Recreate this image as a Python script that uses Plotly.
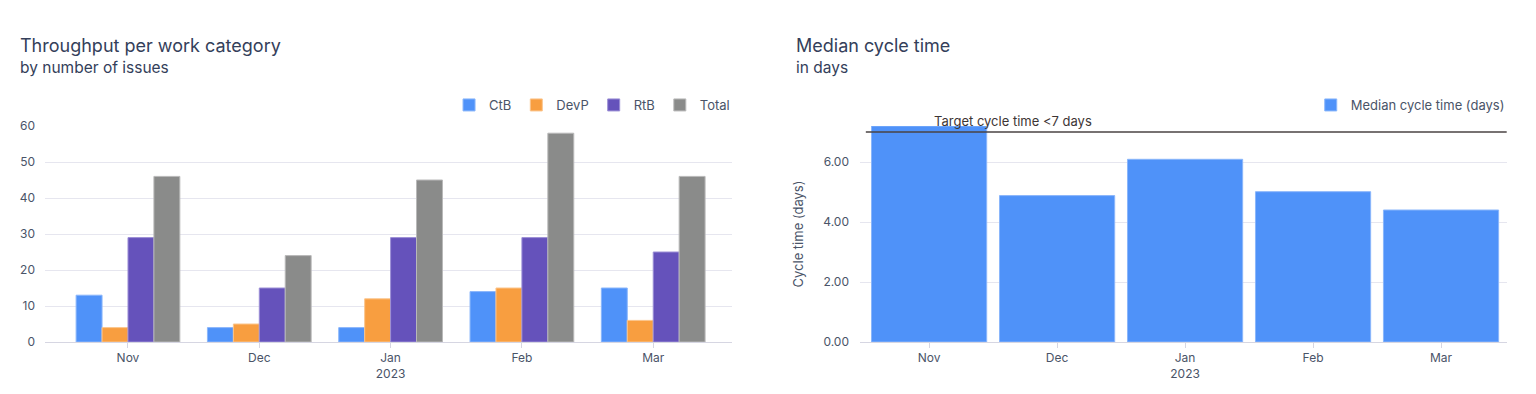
import plotly.graph_objects as go
from plotly.subplots import make_subplots

months = ["Nov", "Dec", "Jan", "Feb", "Mar"]
month_labels = ["Nov", "Dec", "Jan<br>2023", "Feb", "Mar"]

ctb = [13, 4, 4, 14, 15]
devp = [4, 5, 12, 15, 6]
rtb = [29, 15, 29, 29, 25]
total = [46, 24, 45, 58, 46]

cycle_time = [7.2, 4.88, 6.09, 5.01, 4.40]
target_days = 7

series = [
    ("CtB", ctb, "#4f92f9", "#8ab6fb"),
    ("DevP", devp, "#f89e40", "#fbc58c"),
    ("RtB", rtb, "#6552bb", "#9c8fd6"),
    ("Total", total, "#8a8b8a", "#b9b9b9"),
]

FONT = "Inter, Noto Sans, sans-serif"
TEXT = "#34405a"
TICK = "#4a5468"
GRID = "#e6e6ef"
AXIS = "#d6d6e2"

# page body has an 8px margin: work in reference pixels, shift by OFF
OFF = 8
W, H = 1536 - 2 * OFF, 394 - 2 * OFF
TOP, BOT = 126 - OFF, 342 - OFF
L1, R1 = 45 - OFF, 732 - OFF
L2, R2 = 860 - OFF, 1506.7 - OFF


def px(xref):
    return (xref - OFF) / W


def py(yref):
    return (BOT - (yref - OFF)) / (BOT - TOP)


fig = make_subplots(rows=1, cols=2)

for name, vals, col, lcol in series:
    fig.add_trace(go.Bar(x=months, y=vals, name=name,
                         marker=dict(color=col, line=dict(color=lcol, width=1)),
                         legend="legend"), row=1, col=1)

fig.add_trace(go.Bar(x=months, y=cycle_time, name="Median cycle time (days)", width=0.9,
                     marker=dict(color="#4f92f9", line=dict(color="#8ab6fb", width=1)),
                     legend="legend2"), row=1, col=2)

fig.update_layout(
    width=W, height=H, autosize=False,
    margin=dict(l=0, r=0, t=TOP, b=H - BOT),
    plot_bgcolor="white", paper_bgcolor="white",
    font=dict(family=FONT, color=TICK, size=12),
    barmode="group", bargap=0.21, bargroupgap=0,
    showlegend=True,
    legend=dict(orientation="h", x=R1 / W + 0.002, xanchor="right", y=py(105), yanchor="middle",
                font=dict(size=13, color=TICK), bgcolor="rgba(0,0,0,0)",
                traceorder="normal", itemwidth=30),
    legend2=dict(orientation="h", x=R2 / W + 0.002, xanchor="right", y=py(105), yanchor="middle",
                 font=dict(size=13, color=TICK), bgcolor="rgba(0,0,0,0)"),
)

xcommon = dict(type="category", tickmode="array", tickvals=months, ticktext=month_labels,
               ticks="outside", ticklen=5, tickcolor=AXIS, showline=True, linecolor=AXIS,
               linewidth=1, showgrid=False, tickfont=dict(size=12, color=TICK),
               ticklabelstandoff=0)
fig.update_xaxes(xcommon, row=1, col=1, domain=[L1 / W, R1 / W], range=[-0.632, 4.60])
fig.update_xaxes(xcommon, row=1, col=2, domain=[L2 / W, R2 / W], range=[-0.54, 4.513])

fig.update_yaxes(row=1, col=1, range=[0, 60], dtick=10, showgrid=True, gridcolor=GRID,
                 gridwidth=1, zeroline=False, showline=False, ticks="",
                 tickfont=dict(size=12, color=TICK), ticklabelstandoff=9)
fig.update_yaxes(row=1, col=2, range=[0, 7.2], tickvals=[0, 2, 4, 6], tickformat=".2f",
                 showgrid=True, gridcolor=GRID, gridwidth=1, zeroline=False, showline=False,
                 ticks="", tickfont=dict(size=12, color=TICK), ticklabelstandoff=10,
                 title=dict(text="Cycle time (days)", font=dict(size=13, color=TICK), standoff=16))

# target line
fig.add_shape(type="line", xref="x2 domain", yref="y2", x0=0.009, x1=1.0,
              y0=target_days, y1=target_days, line=dict(color="#4a4343", width=1.5),
              layer="above")
fig.add_annotation(xref="x2", yref="y2", x=0.02, y=target_days, xanchor="left",
                   yanchor="bottom", text="Target cycle time <7 days", showarrow=False,
                   font=dict(size=13, color="#3d3535"), yshift=1)

# titles
fig.add_annotation(xref="paper", yref="paper", x=px(18), y=py(46), xanchor="left",
                   yanchor="middle", text="Throughput per work category", showarrow=False,
                   font=dict(size=18, color=TEXT))
fig.add_annotation(xref="paper", yref="paper", x=px(18), y=py(68), xanchor="left",
                   yanchor="middle", text="by number of issues", showarrow=False,
                   font=dict(size=15.5, color=TEXT))
fig.add_annotation(xref="paper", yref="paper", x=px(794), y=py(46), xanchor="left",
                   yanchor="middle", text="Median cycle time", showarrow=False,
                   font=dict(size=18, color=TEXT))
fig.add_annotation(xref="paper", yref="paper", x=px(794), y=py(68), xanchor="left",
                   yanchor="middle", text="in days", showarrow=False,
                   font=dict(size=15.5, color=TEXT))

fig.write_html("out.html")
